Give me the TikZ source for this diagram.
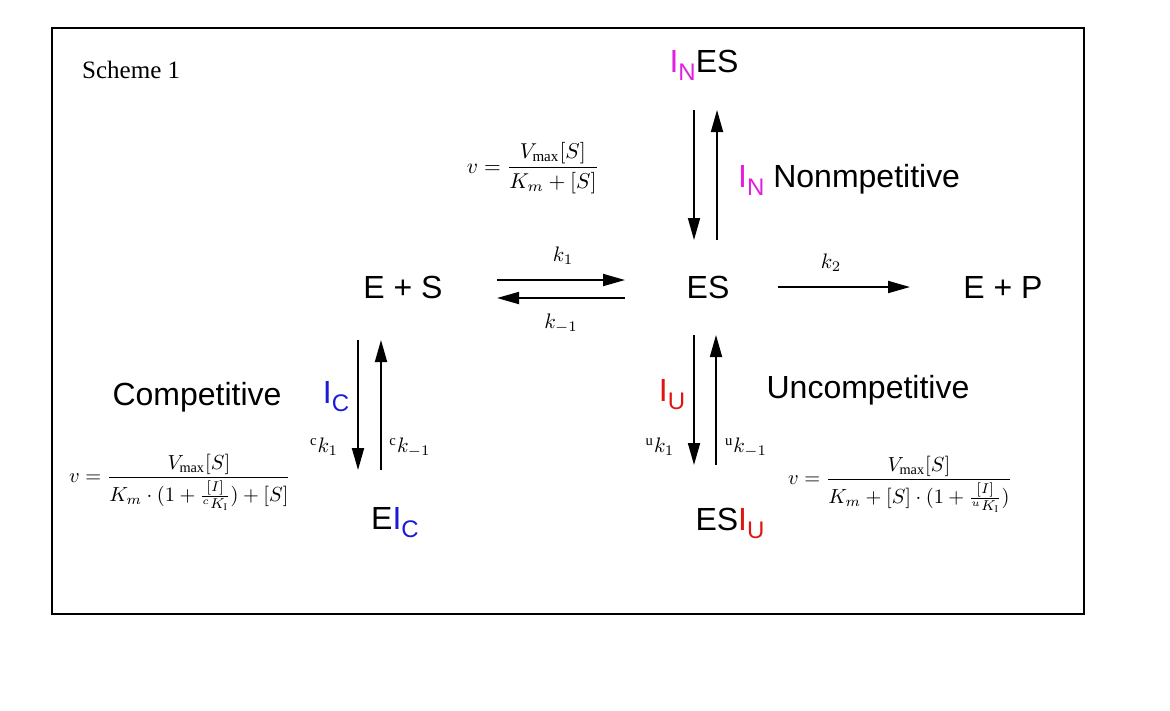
\documentclass[tikz,border=0pt]{standalone}
\usepackage{amsmath}
\usepackage{graphicx}
\usepackage{fontspec}
\setmainfont{Liberation Serif}
\newfontfamily\sfx{Liberation Sans}
\usetikzlibrary{arrows.meta}
\definecolor{magN}{RGB}{225,30,225}
\definecolor{bluC}{RGB}{25,25,215}
\definecolor{redU}{RGB}{225,20,20}
\newcommand{\subx}[1]{\raisebox{-0.25em}{\fontsize{24}{26}\selectfont #1}}
\newcommand{\mymath}[1]{\scalebox{2.1}{#1}}
\begin{document}
\begin{tikzpicture}[x=1pt,y=-1pt,
  sp/.style={font=\sfx\fontsize{32}{36}\selectfont,inner sep=0pt},
  lab/.style={inner sep=0pt},
  eq/.style={inner sep=0pt},
  arr/.style={line width=1.8pt,-{Triangle[length=22pt,width=12pt]}}]
\useasboundingbox (0,0) rectangle (1170,710);
\draw[line width=1.2pt] (52,28) rectangle (1084,614);
\node[font=\fontsize{25}{28}\selectfont,anchor=west,inner sep=0pt] (sch) at (82,70) {Scheme 1};
\node[sp] (ines) at (704,65) {\textcolor{magN}{I\subx{N}}ES};
\node[sp] (es0) at (403,287) {E + S};
\node[sp] (es) at (708,287) {ES};
\node[sp] (ep) at (1003,287) {E + P};
\node[sp] (eic) at (395,523) {E\textcolor{bluC}{I\subx{C}}};
\node[sp] (esiu) at (730,523) {ES\textcolor{redU}{I\subx{U}}};
\node[sp,anchor=west] (nonl) at (738,180) {\textcolor{magN}{I\subx{N}} Nonmpetitive};
\node[sp] (comp) at (197,397) {Competitive};
\node[sp] (ic) at (336,397) {\textcolor{bluC}{I\subx{C}}};
\node[sp] (iu) at (672,395) {\textcolor{redU}{I\subx{U}}};
\node[sp] (unc) at (868,390) {Uncompetitive};
% arrows
\coordinate (a1) at (497,280); \coordinate (a2) at (625,280);
\coordinate (b1) at (625,298); \coordinate (b2) at (497,298);
\draw[arr] (a1) -- (a2);
\draw[arr] (b1) -- (b2);
\node[lab] (k1) at (563,256) {\mymath{$k_1$}};
\node[lab] (km1) at (561,324) {\mymath{$k_{-1}$}};
\coordinate (p1) at (778,287); \coordinate (p2) at (910,287);
\draw[arr] (p1) -- (p2);
\node[lab] (k2) at (831,263) {\mymath{$k_2$}};
\coordinate (n1) at (694,110); \coordinate (n2) at (694,240);
\coordinate (n3) at (717,240); \coordinate (n4) at (717,110);
\draw[arr] (n1) -- (n2); \draw[arr] (n3) -- (n4);
\coordinate (c1) at (358,340); \coordinate (c2) at (358,470);
\coordinate (c3) at (381,470); \coordinate (c4) at (381,340);
\draw[arr] (c1) -- (c2); \draw[arr] (c3) -- (c4);
\node[lab] (ck1) at (324,447) {\mymath{${}^{\mathrm{c}}k_1$}};
\node[lab] (ckm1) at (410,448) {\mymath{${}^{\mathrm{c}}k_{-1}$}};
\coordinate (u1) at (694,335); \coordinate (u2) at (694,465);
\coordinate (u3) at (716,465); \coordinate (u4) at (716,335);
\draw[arr] (u1) -- (u2); \draw[arr] (u3) -- (u4);
\node[lab] (uk1) at (660,447) {\mymath{${}^{\mathrm{u}}k_1$}};
\node[lab] (ukm1) at (746,448) {\mymath{${}^{\mathrm{u}}k_{-1}$}};
% equations
\node[eq] (eqt) at (533,168) {\scalebox{2.15}{$v=\dfrac{V_{\max}[S]}{K_m+[S]}$}};
\node[eq] (eql) at (180,482) {\scalebox{2.04}{$v=\dfrac{V_{\max}[S]}{K_m\cdot(1+\frac{[I]}{{}^cK_{\mathrm{I}}})+[S]}$}};
\node[eq] (eqr) at (900,484) {\scalebox{2.04}{$v=\dfrac{V_{\max}[S]}{K_m+[S]\cdot(1+\frac{[I]}{{}^uK_{\mathrm{I}}})}$}};
\end{tikzpicture}
\end{document}
